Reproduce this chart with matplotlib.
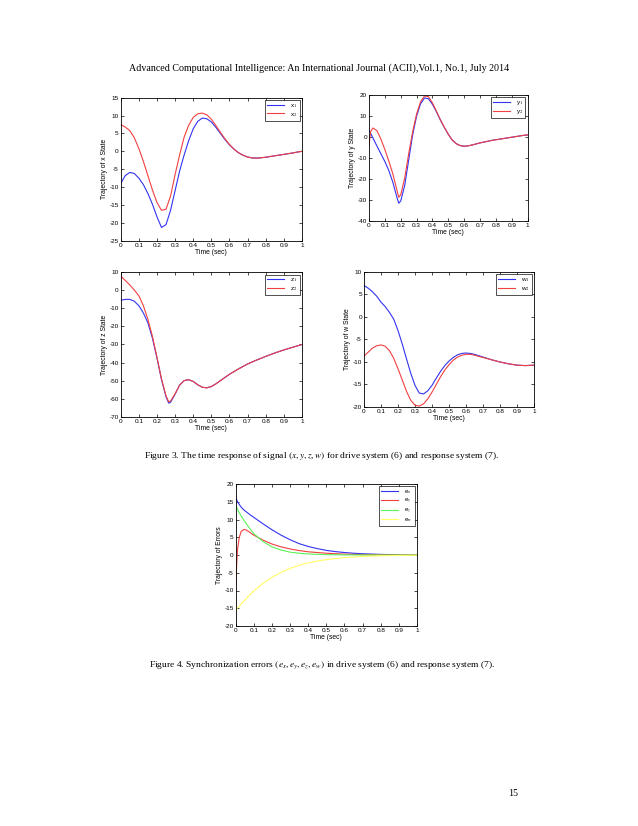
import matplotlib
matplotlib.use("Agg")
import matplotlib.pyplot as plt
import numpy as np

# ---------------- data ----------------
t_x = [0, 0.025, 0.05, 0.075, 0.1, 0.125, 0.15, 0.175, 0.2, 0.225, 0.25, 0.275, 0.3,
       0.325, 0.35, 0.375, 0.4, 0.425, 0.45, 0.475, 0.5, 0.525, 0.55, 0.575, 0.6, 0.625,
       0.65, 0.675, 0.7, 0.725, 0.75, 0.775, 0.8, 0.825, 0.85, 0.875, 0.9, 0.925, 0.95,
       0.975, 1.0]
x1 = [-9.0, -6.8, -5.9, -6.2, -7.5, -9.3, -11.8, -14.8, -18.3, -21.3, -20.5, -16.5, -11.0,
      -5.5, -1.0, 3.0, 6.3, 8.4, 9.3, 9.1, 8.2, 6.7, 5.0, 3.3, 1.8, 0.6,
      -0.4, -1.1, -1.6, -1.85, -1.9, -1.8, -1.65, -1.45, -1.25, -1.05, -0.85, -0.65, -0.45,
      -0.2, 0.0]
x2 = [7.5, 6.8, 5.8, 3.8, 0.8, -2.8, -6.8, -10.8, -14.3, -16.5, -16.2, -12.5, -6.5,
      -1.0, 4.0, 7.3, 9.5, 10.5, 10.7, 10.2, 9.0, 7.2, 5.3, 3.5, 1.9, 0.6,
      -0.4, -1.1, -1.6, -1.85, -1.9, -1.8, -1.65, -1.45, -1.25, -1.05, -0.85, -0.65, -0.45,
      -0.2, 0.0]

t_y = [0, 0.01, 0.025, 0.05, 0.075, 0.1, 0.125, 0.15, 0.175, 0.1875, 0.2, 0.225, 0.25,
       0.275, 0.3, 0.325, 0.35, 0.375, 0.4, 0.425, 0.45, 0.475, 0.5, 0.525, 0.55, 0.575,
       0.6, 0.625, 0.65, 0.675, 0.7, 0.725, 0.75, 0.775, 0.8, 0.825, 0.85, 0.875, 0.9,
       0.925, 0.95, 0.975, 1.0]
y1 = [3.3, 1.8, -0.5, -4.3, -8.0, -11.7, -16.0, -21.5, -28.5, -31.5, -30.5, -23.0, -11.0,
      1.0, 10.0, 15.8, 18.6, 18.2, 15.5, 12.0, 8.0, 4.5, 1.2, -1.5, -3.2, -4.1,
      -4.4, -4.2, -3.8, -3.3, -2.8, -2.4, -2.0, -1.6, -1.3, -1.0, -0.7, -0.4, -0.1,
      0.2, 0.5, 0.8, 1.0]
y2 = [-4.0, 2.5, 4.3, 3.0, -1.0, -6.0, -11.5, -17.5, -25.0, -28.7, -27.5, -19.5, -8.0,
      2.5, 11.0, 16.8, 19.5, 19.2, 16.2, 12.3, 8.2, 4.6, 1.3, -1.5, -3.2, -4.1,
      -4.4, -4.2, -3.8, -3.3, -2.8, -2.4, -2.0, -1.6, -1.3, -1.0, -0.7, -0.4, -0.1,
      0.2, 0.5, 0.8, 1.0]

t_z = [0, 0.025, 0.05, 0.075, 0.1, 0.125, 0.15, 0.175, 0.2, 0.225, 0.25, 0.265, 0.275,
       0.3, 0.325, 0.35, 0.375, 0.4, 0.425, 0.45, 0.475, 0.5, 0.525, 0.55, 0.6, 0.65,
       0.7, 0.75, 0.8, 0.85, 0.9, 0.95, 1.0]
z1 = [-5.5, -5.0, -5.0, -6.0, -8.5, -12.5, -18.0, -26.5, -37.5, -49.5, -59.0, -62.5, -62.0,
      -57.5, -52.5, -50.0, -49.5, -50.5, -52.3, -53.7, -54.0, -53.3, -51.8, -50.0, -46.5, -43.5,
      -40.8, -38.6, -36.6, -34.7, -33.0, -31.5, -30.0]
z2 = [8.0, 5.5, 3.0, 0.2, -3.0, -8.5, -16.0, -25.5, -37.0, -49.0, -58.5, -61.8, -61.3,
      -57.3, -52.5, -50.0, -49.5, -50.5, -52.3, -53.7, -54.0, -53.3, -51.8, -50.0, -46.5, -43.5,
      -40.8, -38.6, -36.6, -34.7, -33.0, -31.5, -30.0]

t_w = [0, 0.025, 0.05, 0.075, 0.1, 0.125, 0.15, 0.175, 0.2, 0.225, 0.25, 0.275, 0.3,
       0.325, 0.35, 0.375, 0.4, 0.425, 0.45, 0.475, 0.5, 0.525, 0.55, 0.575, 0.6, 0.625,
       0.65, 0.7, 0.75, 0.8, 0.85, 0.9, 0.95, 1.0]
w1 = [7.0, 6.4, 5.6, 4.6, 3.3, 2.3, 1.0, -0.5, -3.0, -6.0, -9.3, -12.5, -15.2,
      -16.9, -17.1, -16.4, -15.2, -13.6, -12.1, -10.8, -9.8, -9.0, -8.4, -8.1, -8.0, -8.1,
      -8.3, -8.9, -9.5, -10.0, -10.4, -10.7, -10.8, -10.7]
w2 = [-8.7, -7.8, -6.9, -6.4, -6.2, -6.5, -7.5, -9.2, -11.5, -14.0, -16.5, -18.5, -19.6,
      -19.8, -19.3, -18.2, -16.7, -15.0, -13.3, -11.8, -10.6, -9.6, -8.9, -8.5, -8.3, -8.3,
      -8.5, -9.0, -9.5, -10.0, -10.4, -10.7, -10.8, -10.7]

t_e = [0, 0.005, 0.01, 0.02, 0.03, 0.045, 0.06, 0.08, 0.1, 0.15, 0.2, 0.25, 0.3, 0.35,
       0.4, 0.45, 0.5, 0.55, 0.6, 0.65, 0.7, 0.8, 0.9, 1.0]
ex = [16.3, 15.6, 15.0, 14.2, 13.5, 12.7, 12.1, 11.3, 10.6, 8.8, 7.1, 5.6, 4.3, 3.2,
      2.4, 1.8, 1.3, 0.95, 0.7, 0.5, 0.35, 0.17, 0.08, 0.04]
ey = [-10.0, -3.0, 1.5, 5.0, 6.6, 7.2, 7.0, 6.3, 5.6, 4.2, 3.1, 2.3, 1.7, 1.25,
      0.9, 0.7, 0.5, 0.36, 0.25, 0.18, 0.12, 0.06, 0.03, 0.02]
ez = [14.0, 13.4, 12.9, 11.9, 11.0, 9.8, 8.7, 7.3, 6.0, 3.8, 2.3, 1.4, 0.8, 0.5,
      0.3, 0.18, 0.1, 0.07, 0.04, 0.02, 0.01, 0.0, 0.0, 0.0]
ew = [-15.5, -15.2, -14.9, -14.4, -13.8, -13.0, -12.2, -11.1, -10.1, -8.0, -6.3, -4.9, -3.8, -2.9,
      -2.2, -1.7, -1.3, -1.0, -0.75, -0.55, -0.4, -0.22, -0.12, -0.06]

xticks = [0, 0.1, 0.2, 0.3, 0.4, 0.5, 0.6, 0.7, 0.8, 0.9, 1]
xtick_labels = ["0", "0.1", "0.2", "0.3", "0.4", "0.5", "0.6", "0.7", "0.8", "0.9", "1"]

header = "Advanced Computational Intelligence: An International Journal (ACII),Vol.1, No.1, July 2014"
cap3 = r"Figure 3. The time response of signal $(x, y, z, w)$ for drive system (6) and response system (7)."
cap4 = r"Figure 4. Synchronization errors $\left(e_x, e_y, e_z, e_w\right)$ in drive system (6) and response system (7)."

# ---------------- figure ----------------
plt.rcParams['font.family'] = ['Liberation Sans', 'DejaVu Sans']
plt.rcParams['mathtext.fontset'] = 'stix'
W, H = 638, 826
fig = plt.figure(figsize=(W / 100, H / 100), dpi=100)
fig.patch.set_facecolor('white')


def box(l, r, t, b):
    return [l / W, 1 - b / H, (r - l) / W, (b - t) / H]


BLUE = (0.2, 0.2, 0.95)
RED = (0.95, 0.25, 0.25)
GREEN = (0.35, 0.95, 0.35)
YELLOW = (1.0, 1.0, 0.4)
FS = 4.6


def setup(ax, ylim, yticks, ylabel):
    ax.set_xlim(0, 1)
    ax.set_ylim(*ylim)
    ax.set_xticks(xticks)
    ax.set_xticklabels(xtick_labels)
    ax.set_yticks(yticks)
    ax.set_yticklabels([str(v) for v in yticks])
    ax.tick_params(direction='in', length=2.0, width=0.5, labelsize=FS, pad=1.5,
                   top=True, right=True)
    for s in ax.spines.values():
        s.set_linewidth(0.6)
    ax.set_xlabel("Time (sec)", fontsize=FS + 0.3, labelpad=1)
    ax.set_ylabel(ylabel, fontsize=FS + 0.3, labelpad=1)


def legend(ax):
    lg = ax.legend(loc='upper right', fontsize=FS, frameon=True, fancybox=False,
                   edgecolor='black', handlelength=2.6, handletextpad=1.0,
                   borderpad=0.3, labelspacing=0.15, borderaxespad=0.35,
                   markerfirst=True)
    lg.get_frame().set_linewidth(0.6)


lw = 0.8
ax1 = fig.add_axes(box(120.7, 302, 97.7, 240.7))
ax1.plot(t_x, x1, color=BLUE, lw=lw, label=r'x$_1$')
ax1.plot(t_x, x2, color=RED, lw=lw, label=r'x$_2$')
setup(ax1, (-25, 15), list(range(-25, 16, 5)), "Trajectory of x State")
legend(ax1)

ax2 = fig.add_axes(box(369, 527.7, 95, 221))
ax2.plot(t_y, y1, color=BLUE, lw=lw, label=r'y$_1$')
ax2.plot(t_y, y2, color=RED, lw=lw, label=r'y$_2$')
setup(ax2, (-40, 20), list(range(-40, 21, 10)), "Trajectory of y State")
legend(ax2)

ax3 = fig.add_axes(box(120.7, 302, 272.3, 416.7))
ax3.plot(t_z, z1, color=BLUE, lw=lw, label=r'z$_1$')
ax3.plot(t_z, z2, color=RED, lw=lw, label=r'z$_2$')
setup(ax3, (-70, 10), list(range(-70, 11, 10)), "Trajectory of z State")
legend(ax3)

ax4 = fig.add_axes(box(364, 534, 272, 407))
ax4.plot(t_w, w1, color=BLUE, lw=lw, label=r'w$_1$')
ax4.plot(t_w, w2, color=RED, lw=lw, label=r'w$_2$')
setup(ax4, (-20, 10), list(range(-20, 11, 5)), "Trajectory of w State")
legend(ax4)

ax5 = fig.add_axes(box(235.7, 417, 484, 626))
ax5.plot(t_e, ex, color=BLUE, lw=lw, label=r'e$_x$')
ax5.plot(t_e, ey, color=RED, lw=lw, label=r'e$_y$')
ax5.plot(t_e, ez, color=GREEN, lw=lw, label=r'e$_z$')
ax5.plot(t_e, ew, color=YELLOW, lw=lw, label=r'e$_w$')
setup(ax5, (-20, 20), list(range(-20, 21, 5)), "Trajectory of Errors")
legend(ax5)

serif = ['Liberation Serif', 'DejaVu Serif']
fig.text(319 / W, 1 - 68 / H, header, ha='center', va='center', fontsize=7.2, family=serif)
fig.text(322 / W, 1 - 456 / H, cap3, ha='center', va='center', fontsize=6.8, family=serif)
fig.text(322 / W, 1 - 665 / H, cap4, ha='center', va='center', fontsize=6.8, family=serif)
fig.text(513 / W, 1 - 793 / H, "15", ha='center', va='center', fontsize=7.2, family=serif)

fig.savefig("out.png", dpi=100, facecolor='white')
